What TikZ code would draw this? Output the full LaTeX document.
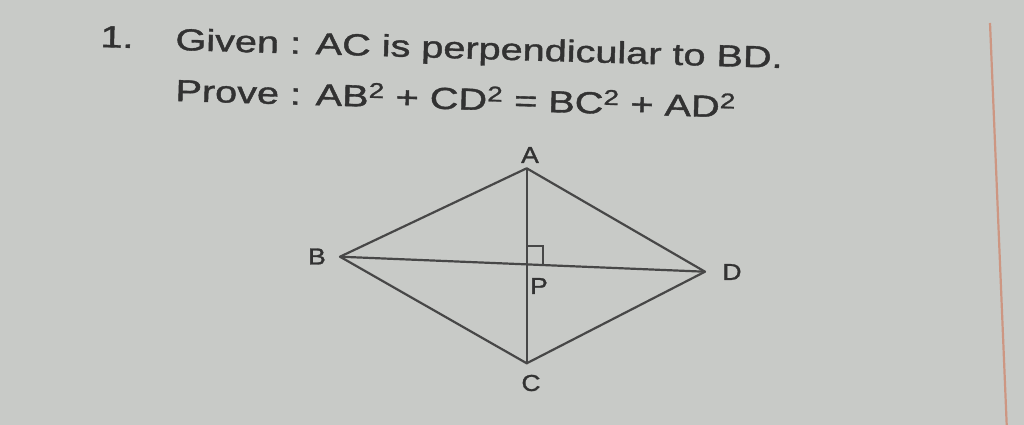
\documentclass[tikz,border=0pt]{standalone}
\usepackage{fontspec}
\setmainfont{Liberation Sans}
\newfontfamily\semibold[FakeBold=1.2]{Liberation Sans}
\definecolor{paper}{RGB}{200,202,199}
\definecolor{ink}{RGB}{50,50,50}
\definecolor{redline}{RGB}{205,150,130}
\begin{document}
\begin{tikzpicture}[x=1pt,y=-1pt,
  txt/.style={anchor=base west, inner sep=0pt, text=ink, rotate=-1.7, xscale=1.30, transform shape, font=\semibold\fontsize{30.5}{30.5}\selectfont},
  lbl/.style={inner sep=0pt, text=ink, font=\semibold\fontsize{23}{23}\selectfont, xscale=1.15, transform shape},
  edge/.style={draw=ink!90, line width=2.2pt, line join=round}]
\fill[paper] (0,0) rectangle (1024,425);
\useasboundingbox (0,0) rectangle (1024,425);
% margin line
\coordinate (r1) at (990,23);
\coordinate (r2) at (1006.7,425);
\draw[redline, line width=2.2pt] (r1) -- (r2);
% text
\node[txt] (num) at (100,47) {1.};
\node[txt] (given) at (175,50) {Given : AC is perpendicular to BD.};
\node[txt] (prove) at (175,101) {Prove : AB\textsuperscript{2} + CD\textsuperscript{2} = BC\textsuperscript{2} + AD\textsuperscript{2}};
% figure
\coordinate (A) at (526.7,168.3);
\coordinate (B) at (340,256.7);
\coordinate (D) at (705,271.7);
\coordinate (C) at (526.7,363.3);
\coordinate (P) at (526.7,264.4);
\draw[edge] (A) -- (B) -- (C) -- (D) -- cycle;
\draw[edge] (A) -- (C);
\draw[edge] (B) -- (D);
\coordinate (m1) at (526.7,246);
\coordinate (m2) at (543,246);
\coordinate (m3) at (543,265.1);
\draw[draw=ink!90, line width=1.8pt] (m1) -- (m2) -- (m3);
% labels
\node[lbl] (la) at (530,155) {A};
\node[lbl] (lb) at (317,256.5) {B};
\node[lbl] (ld) at (732,272) {D};
\node[lbl] (lp) at (539,286) {P};
\node[lbl] (lc) at (531,383) {C};
\end{tikzpicture}
\end{document}
